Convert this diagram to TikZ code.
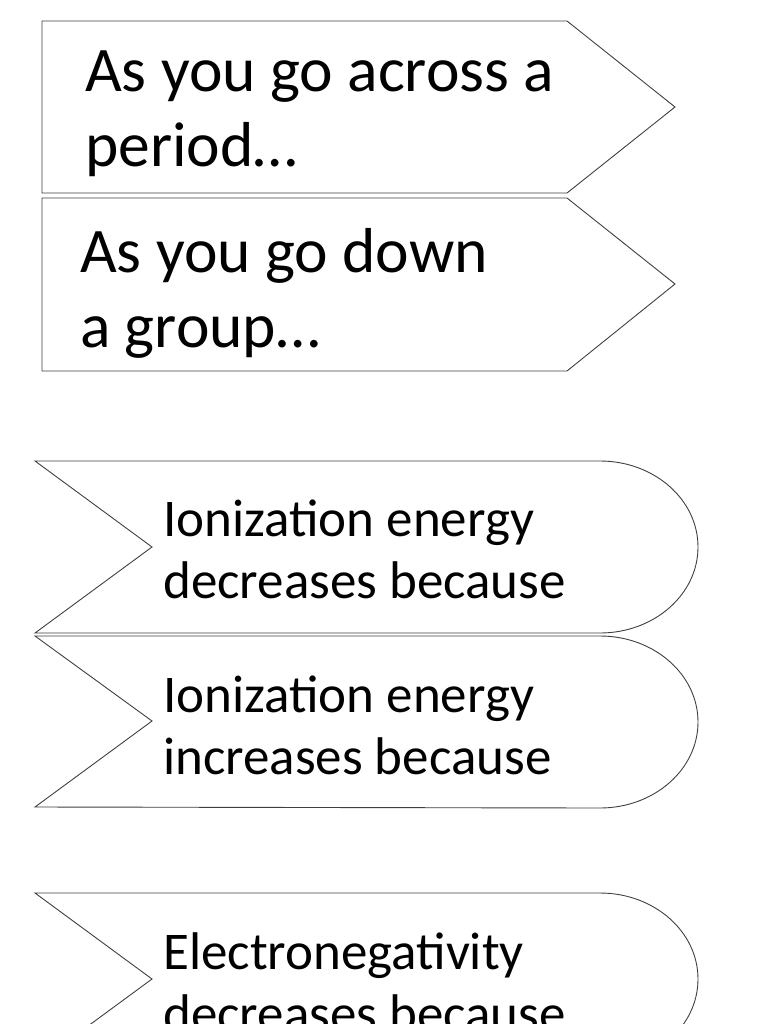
\documentclass[tikz,border=0pt]{standalone}
\usepackage{fontspec}
\setmainfont{Carlito}
\begin{document}
\begin{tikzpicture}[x=1pt,y=-1pt,
  shapeline/.style={draw=black!75, line width=0.9pt, fill=white},
  bigtext/.style={anchor=base west, align=left, inner sep=0pt, font=\fontsize{63.5}{75}\selectfont},
  midtext/.style={anchor=base west, align=left, inner sep=0pt, font=\fontsize{53}{61.5}\selectfont}]
\useasboundingbox (0,0) rectangle (768,1024);
\clip (0,0) rectangle (768,1024);
\fill[white] (0,0) rectangle (768,1024);
% pentagon arrows
\draw[shapeline] (42,21) -- (567,21) -- (675,107) -- (567,193) -- (42,193) -- cycle;
\draw[shapeline] (42,198) -- (567,198) -- (675,284) -- (567,371) -- (42,371) -- cycle;
\node[bigtext] (period) at (85,167) {As you go across a\\period…};
\node[bigtext] (group) at (80,347) {As you go down\\a group…};
% chevron tabs
\draw[shapeline] (35,461) -- (600,461) arc[start angle=-90,end angle=90,x radius=98,y radius=86] -- (35,633) -- (152,547) -- cycle;
\draw[shapeline] (35,636) -- (600,636) arc[start angle=-90,end angle=90,x radius=98,y radius=86] -- (35,807) -- (152,721) -- cycle;
\draw[shapeline] (35,893) -- (600,893) arc[start angle=-90,end angle=90,x radius=98,y radius=86] -- (35,1065) -- (152,979) -- cycle;
\node[midtext] (iedec) at (163,598) {Ionization energy\\decreases because};
\node[midtext] (ieinc) at (163,774) {Ionization energy\\increases because};
\node[midtext] (endec) at (163,1031) {Electronegativity\\decreases because};
\end{tikzpicture}
\end{document}
